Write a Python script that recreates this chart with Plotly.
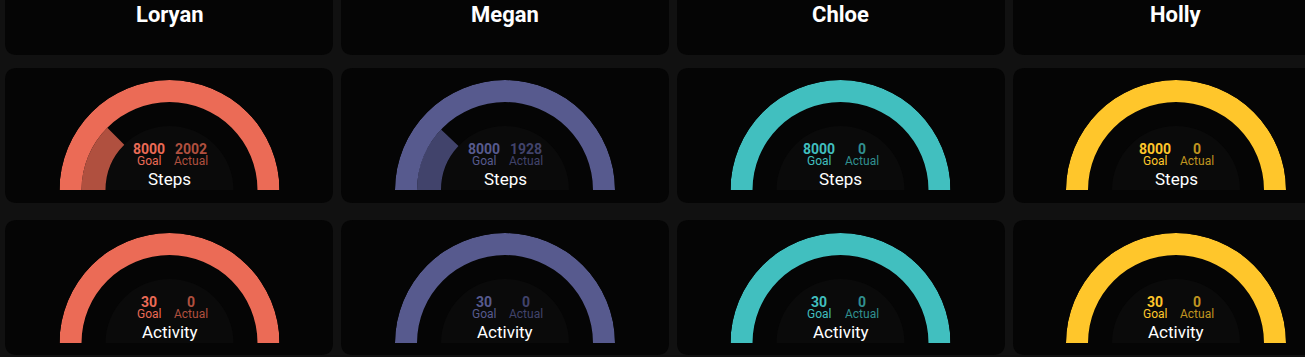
import plotly.graph_objects as go

# ---------------- data ----------------
people = ["Loryan", "Megan", "Chloe", "Holly"]
steps_goal = [8000, 8000, 8000, 8000]
steps_actual = [2002, 1928, 0, 0]
activity_goal = [30, 30, 30, 30]
activity_actual = [0, 0, 0, 0]
metric_names = ["Steps", "Activity"]
goal_label = "Goal"
actual_label = "Actual"

# ---------------- style ----------------
colors = ["#EB6B56", "#575A8E", "#41BFBF", "#FFC62B"]
dark_colors = ["#B0503F", "#41436B", "#319090", "#C09520"]
page_bg = "#111111"
card_bg = "#050505"
disc_bg = "#0A0A0A"

W, H = 1305, 357
col_cx = [169.5, 505, 840.5, 1176]
card_x = [(5, 333), (341, 669), (677, 1005), (1013, 1341)]
row_cards = [(-20, 55), (68, 203), (220, 355)]
gauge_cy = [190, 343]
R_OUT, R_MID, R_IN = 110, 88, 64
RAD = 12


def px(x):
    return x / W


def py(y):
    return 1 - y / H


def rounded_rect(x0, y0, x1, y1, r):
    pts = (
        f"M {px(x0 + r)} {py(y0)} L {px(x1 - r)} {py(y0)} "
        f"Q {px(x1)} {py(y0)} {px(x1)} {py(y0 + r)} "
        f"L {px(x1)} {py(y1 - r)} Q {px(x1)} {py(y1)} {px(x1 - r)} {py(y1)} "
        f"L {px(x0 + r)} {py(y1)} Q {px(x0)} {py(y1)} {px(x0)} {py(y1 - r)} "
        f"L {px(x0)} {py(y0 + r)} Q {px(x0)} {py(y0)} {px(x0 + r)} {py(y0)} Z"
    )
    return pts


fig = go.Figure()
shapes = []
for (y0, y1) in row_cards:
    for (x0, x1) in card_x:
        shapes.append(dict(type="path", xref="paper", yref="paper",
                           path=rounded_rect(x0, y0, x1, y1, RAD),
                           fillcolor=card_bg, line=dict(width=0), layer="below"))

annotations = []
FONT = "Roboto"
for i, name in enumerate(people):
    annotations.append(dict(x=px(col_cx[i]), y=py(14.5), xref="paper", yref="paper",
                            text=f"<b>{name}</b>", showarrow=False,
                            xanchor="center", yanchor="middle",
                            font=dict(family=FONT, size=22, color="#FFFFFF")))

layout_polars = {}
pidx = 0
for row, (goals, actuals) in enumerate([(steps_goal, steps_actual),
                                         (activity_goal, activity_actual)]):
    cy = gauge_cy[row]
    for i in range(len(people)):
        pidx += 1
        key = "polar" if pidx == 1 else f"polar{pidx}"
        cx = col_cx[i]
        frac = min(actuals[i] / goals[i], 1.0)
        fig.add_trace(go.Barpolar(
            subplot=key,
            base=[0, R_IN, R_MID],
            r=[R_IN, R_MID - R_IN, R_OUT - R_MID],
            theta=[90, frac * 90, 90],
            width=[180, frac * 180, 180],
            marker=dict(color=[disc_bg, dark_colors[i], colors[i]], line=dict(width=0)),
            hoverinfo="skip", showlegend=False,
        ))
        layout_polars[key] = dict(
            domain=dict(x=[px(cx - R_OUT), px(cx + R_OUT)], y=[py(cy), py(cy - R_OUT)]),
            sector=[0, 180], hole=0, bgcolor="rgba(0,0,0,0)",
            radialaxis=dict(visible=False, range=[0, R_OUT], autorange=False),
            angularaxis=dict(visible=False, rotation=180, direction="clockwise",
                             thetaunit="degrees"),
        )
        # texts
        annotations.append(dict(x=px(cx - 21), y=py(cy - 41), xref="paper", yref="paper",
                                text=f"<b>{goals[i]}</b>", showarrow=False,
                                xanchor="center", yanchor="middle",
                                font=dict(family=FONT, size=14, color=colors[i])))
        annotations.append(dict(x=px(cx + 21), y=py(cy - 41), xref="paper", yref="paper",
                                text=f"<b>{actuals[i]}</b>", showarrow=False,
                                xanchor="center", yanchor="middle",
                                font=dict(family=FONT, size=14, color=dark_colors[i])))
        annotations.append(dict(x=px(cx - 21), y=py(cy - 29), xref="paper", yref="paper",
                                text=goal_label, showarrow=False,
                                xanchor="center", yanchor="middle",
                                font=dict(family=FONT, size=12, color=colors[i])))
        annotations.append(dict(x=px(cx + 21), y=py(cy - 29), xref="paper", yref="paper",
                                text=actual_label, showarrow=False,
                                xanchor="center", yanchor="middle",
                                font=dict(family=FONT, size=12, color=dark_colors[i])))
        annotations.append(dict(x=px(cx), y=py(cy - 11.5), xref="paper", yref="paper",
                                text=metric_names[row], showarrow=False,
                                xanchor="center", yanchor="middle",
                                font=dict(family=FONT, size=17, color="#FFFFFF")))

fig.update_layout(
    width=W, height=H,
    margin=dict(l=0, r=0, t=0, b=0),
    paper_bgcolor=page_bg, plot_bgcolor=page_bg,
    shapes=shapes, annotations=annotations,
    showlegend=False,
    **layout_polars,
)

fig.write_html("out.html", config={"displayModeBar": False})
